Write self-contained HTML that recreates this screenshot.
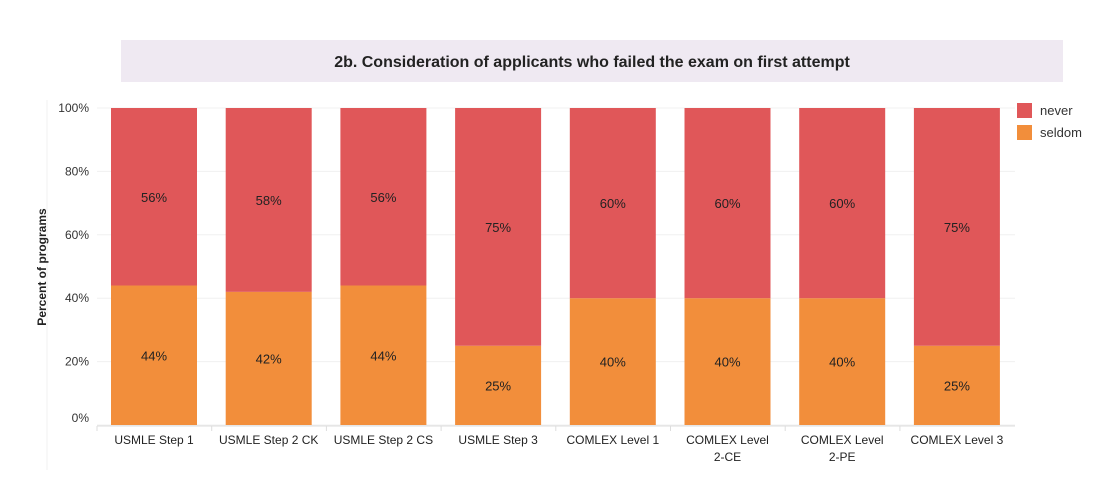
<!DOCTYPE html>
<html><head><meta charset="utf-8"><style>
body{margin:0;background:#fff;font-family:"Liberation Sans",sans-serif;}
</style></head><body>
<svg id="chart" width="1119" height="492" xmlns="http://www.w3.org/2000/svg" font-family="Liberation Sans, sans-serif">
<line x1="47" y1="100" x2="47" y2="470" stroke="#f2f2f2"/>
<rect x="121" y="40" width="942" height="42" fill="#efe9f2"/>
<text x="592" y="67" text-anchor="middle" font-size="16" font-weight="bold" fill="#222">2b. Consideration of applicants who failed the exam on first attempt</text>
<text transform="translate(46,267) rotate(-90)" text-anchor="middle" font-size="12" font-weight="bold" fill="#222">Percent of programs</text>
<g id="grid"></g><g id="bars"></g>
<rect x="1017" y="103" width="15" height="15" fill="#e05759"/>
<text x="1040" y="115" font-size="13" fill="#333">never</text>
<rect x="1017" y="125" width="15" height="15" fill="#f28e3b"/>
<text x="1040" y="137" font-size="13" fill="#333">seldom</text>
</svg>
<script>
const categories=[["USMLE Step 1"],["USMLE Step 2 CK"],["USMLE Step 2 CS"],["USMLE Step 3"],["COMLEX Level 1"],["COMLEX Level","2-CE"],["COMLEX Level","2-PE"],["COMLEX Level 3"]];
const seldom=[44,42,44,25,40,40,40,25];
const never=[56,58,56,75,60,60,60,75];
const ticks=[0,20,40,60,80,100];
const NS="http://www.w3.org/2000/svg";
const x0=97,colW=114.7,y0=425,y100=108;
const y=v=>y0-(y0-y100)*v/100;
const grid=document.getElementById('grid'),bars=document.getElementById('bars');
function mk(tag,attrs,parent){const e=document.createElementNS(NS,tag);for(const k in attrs)e.setAttribute(k,attrs[k]);parent.appendChild(e);return e;}
ticks.forEach(t=>{
  const l=mk('line',{x1:x0,x2:1015,y1:y(t),y2:y(t),stroke:'#f0f0f0'},grid);
  
  
  const tx=mk('text',{x:89,y:y(t)+4-(t===0?7:0),'text-anchor':'end','font-size':12,fill:'#333'},grid);
  tx.textContent=t+'%';
  
  
});
mk('line',{x1:x0,x2:1015,y1:y0+1,y2:y0+1,stroke:'#ddd'},grid);
categories.forEach((c,i)=>{
  const bx=x0+i*colW+14,bw=86;
  const s=seldom[i],n=never[i];
  const r1=mk('rect',{x:bx,y:y(s),width:bw,height:y0-y(s),fill:'#f28e3b'},bars);
  
  
  const r2=mk('rect',{x:bx,y:y(s+n),width:bw,height:y(s)-y(s+n),fill:'#e05759'},bars);
  
  
  const cx=bx+bw/2;
  const t1=mk('text',{x:cx,y:(y(s)+y0)/2+5,'text-anchor':'middle','font-size':13,fill:'#222'},bars);
  t1.textContent=s+'%';
  
  
  const t2=mk('text',{x:cx,y:(y(s)+y(s+n))/2+5,'text-anchor':'middle','font-size':13,fill:'#222'},bars);
  t2.textContent=n+'%';
  
  
  if(i>0){mk('line',{x1:x0+i*colW,x2:x0+i*colW,y1:y0+1,y2:y0+6,stroke:'#ddd'},grid);}
  c.forEach((line,j)=>{
    const tl=mk('text',{x:cx,y:444+j*17,'text-anchor':'middle','font-size':12,fill:'#222'},bars);
    tl.textContent=line;
    
    
  });
});
mk('line',{x1:x0,x2:x0,y1:y0+1,y2:y0+6,stroke:'#ddd'},grid);
</script>
</body></html>
